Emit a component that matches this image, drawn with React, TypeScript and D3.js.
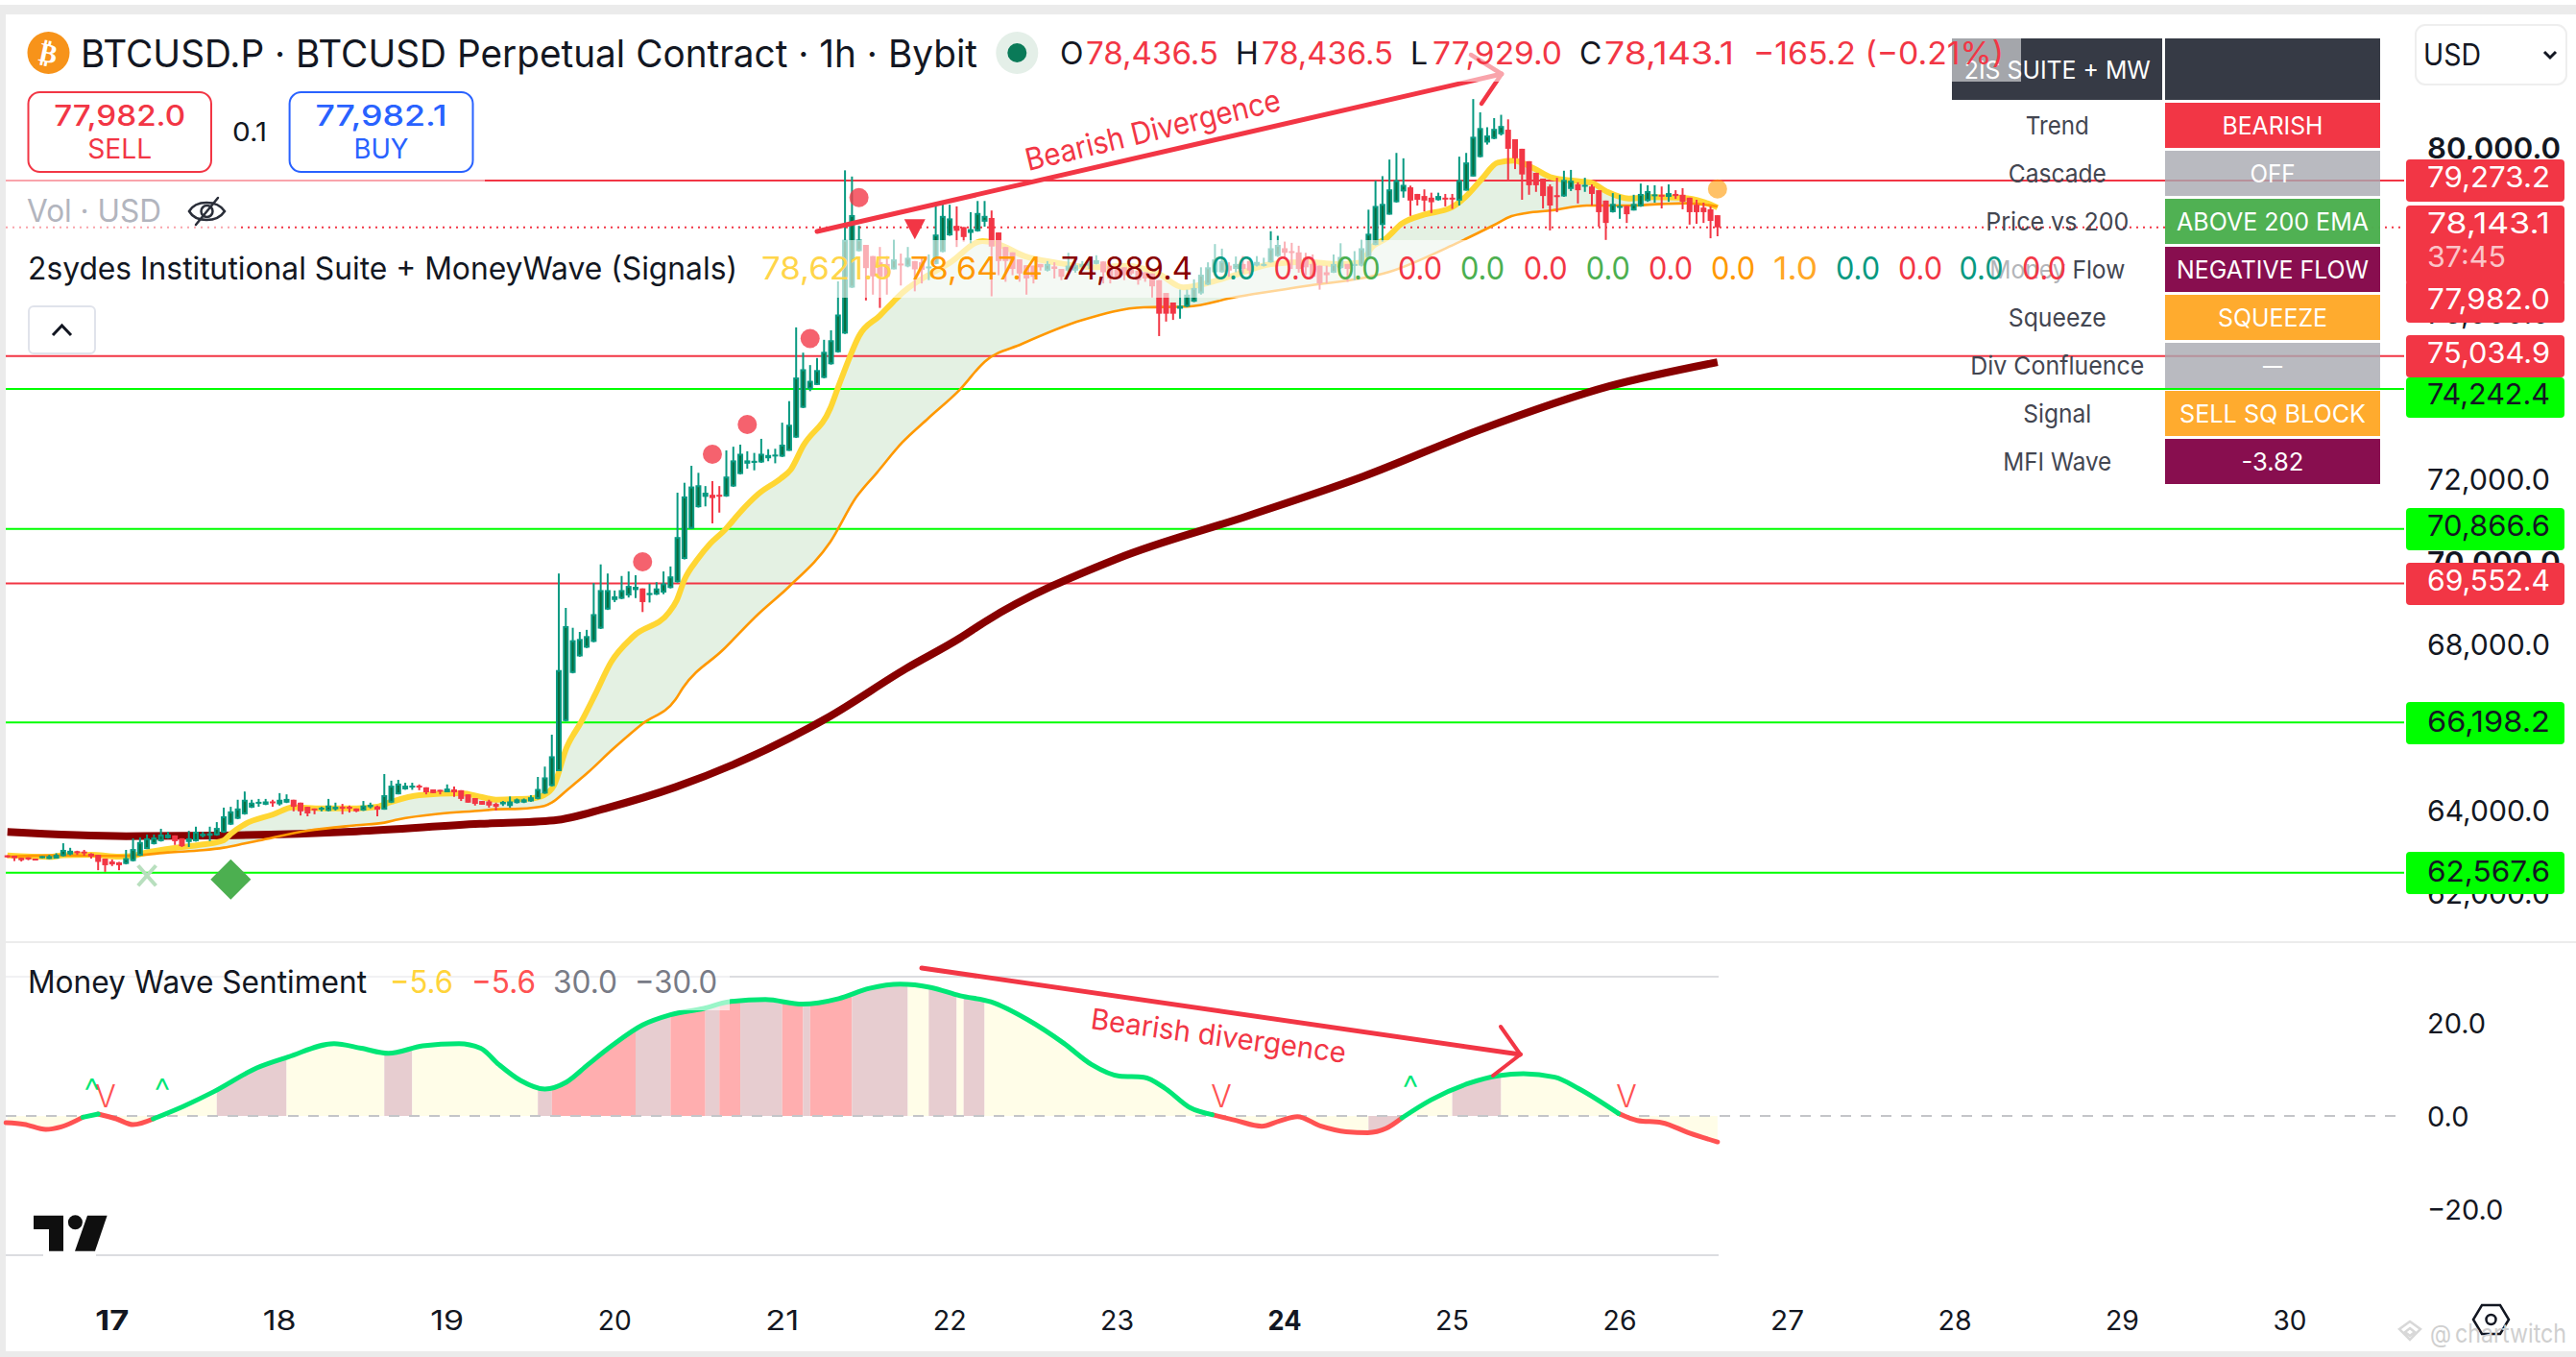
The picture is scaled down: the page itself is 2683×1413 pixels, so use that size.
import React from "react";
import * as d3 from "d3";

const candles: number[][] = [
[62990,62990,62930,62940],[62980,62980,62850,62920],[62930,62930,62840,62870],[62940,62940,62870,62890],[62910,62910,62870,62870],[62920,62970,62920,62970],[62900,63000,62900,62970],[62910,63040,62910,63000],[62970,63280,62960,63120],[63010,63170,62990,63100],
[63090,63100,63000,63040],[63080,63120,62980,63040],[63030,63040,62910,62960],[63000,63000,62630,62830],[62910,62910,62590,62750],[62840,62890,62730,62770],[62820,62830,62630,62750],[62780,63120,62770,62920],[62850,63400,62840,63140],[62980,63420,62970,63310],
[63140,63490,63140,63400],[63260,63490,63250,63420],[63330,63630,63320,63490],[63400,63560,63390,63490],[63470,63470,63240,63330],[63400,63400,63190,63210],[63310,63580,63190,63400],[63330,63680,63320,63560],[63450,63560,63420,63510],[63460,63680,63330,63520],
[63470,63790,63460,63650],[63540,64140,63530,63930],[63730,64160,63720,64050],[63870,64330,63860,64120],[63980,64530,63970,64330],[64140,64330,64130,64260],[64240,64350,64160,64280],[64210,64350,64200,64290],[64290,64330,64160,64250],[64220,64490,64190,64330],
[64260,64460,64250,64350],[64330,64330,64050,64160],[64260,64260,63950,64050],[64160,64160,63930,64000],[64120,64120,63980,64080],[64090,64160,64050,64140],[64060,64350,64050,64190],[64100,64260,64070,64160],[64160,64230,63980,64120],[64160,64190,64020,64120],
[64120,64120,64030,64050],[64070,64300,64060,64190],[64150,64260,64120,64210],[64170,64190,63930,64090],[64090,64950,64090,64440],[64260,64790,64250,64670],[64460,64810,64460,64720],[64580,64740,64570,64670],[64630,64740,64570,64670],[64670,64700,64560,64630],
[64630,64630,64460,64510],[64580,64580,64490,64490],[64570,64570,64460,64530],[64510,64700,64510,64600],[64580,64650,64400,64510],[64560,64560,64300,64350],[64460,64460,64260,64260],[64370,64370,64190,64230],[64300,64300,64210,64210],[64290,64330,64140,64190],
[64230,64260,64070,64160],[64220,64300,64180,64280],[64180,64410,64140,64290],[64250,64360,64240,64340],[64260,64360,64250,64340],[64290,64440,64280,64390],[64350,64880,64340,64590],[64480,65130,64470,64870],[64660,65900,64650,65380],[65020,69790,65020,67460],
[66230,68960,66220,68520],[67390,68480,67380,68180],[67790,68380,67780,68210],[68000,68430,67990,68280],[68140,69560,68130,68810],[68460,70010,68450,69390],[68920,69790,68910,69390],[69150,69380,69100,69240],[69180,69730,69170,69390],[69260,69840,69210,69490],
[69390,69750,69200,69470],[69430,69430,68860,69100],[69270,69540,69090,69320],[69280,69580,69270,69430],[69330,69840,69290,69550],[69440,69960,69430,69720],[69580,71740,69570,70670],[70140,71980,70130,71650],[70870,72390,70860,71890],[71390,72220,71380,71920],
[71640,71900,71410,71740],[71690,72020,71000,71610],[71690,71900,71260,71650],[71650,72760,71640,72130],[71890,72850,71880,72520],[72190,72900,72180,72680],[72440,72740,72320,72520],[72460,72700,72280,72510],[72470,73040,72460,72680],[72570,72790,72500,72650],
[72620,72800,72450,72660],[72610,73430,72600,72900],[72750,73950,72750,73380],[73070,75730,73060,74520],[73790,75120,73780,74720],[74240,74820,74190,74440],[74340,74990,74340,74700],[74510,75430,74500,75140],[74840,75660,74830,75420],[75130,76840,75120,76040],
[75580,79520,75570,77840],[76690,79370,76680,78440],[77570,78180,77560,77850],[77720,77720,76380,77160],[77450,77450,76520,76960],[77300,77670,76200,76950],[77260,77450,76520,76950],[77130,77840,77130,77370],[77270,77510,76740,77260],[77200,77670,77180,77410],
[77330,77330,76600,77130],[77300,77440,76790,77120],[77160,77490,76870,77200],[77260,78650,77250,77970],[77550,78710,77540,78420],[77950,78690,77940,78360],[78180,78650,77670,78060],[78150,78150,77800,77910],[78010,78510,77760,78100],[78050,78780,78040,78490],
[78280,78780,78160,78420],[78370,78550,76480,77680],[78020,78020,76990,77330],[77670,77670,76830,77330],[77540,77540,76990,77140],[77370,77370,76830,77030],[77230,77230,76520,76910],[77220,77220,76790,76950],[77260,77260,77100,77180],[77100,77330,77080,77260],
[77200,77300,76910,77140],[77140,77140,76870,76950],[77100,77530,77060,77220],[77100,77330,77050,77230],[77180,77330,77100,77260],[77220,77410,77140,77300],[77260,77470,77250,77350],[77320,77320,76790,77060],[77220,77220,76790,76910],[77180,77180,76910,76950],
[77180,77180,76870,76990],[77180,77220,76990,77030],[77100,77100,76760,76870],[77060,77060,76830,76910],[77030,77030,76450,76720],[76870,76870,75520,76060],[76560,76560,75870,76060],[76330,76330,75910,76060],[76180,76640,75940,76250],[76230,76640,76220,76520],
[76350,76890,76340,76680],[76550,77180,76520,77000],[76760,77300,76750,77180],[77060,77740,77050,77370],[77060,77630,77050,77330],[77220,77300,76950,77100],[77140,77440,77060,77260],[77260,77450,77030,77140],[77330,77330,76990,77100],[77220,77450,77200,77310],
[77220,77410,77200,77260],[77300,78050,77290,77640],[77450,77940,77430,77720],[77640,77800,77410,77530],[77570,77770,77140,77540],[77540,77700,77050,77140],[77410,77530,76990,77180],[77260,77490,76950,76950],[77220,77220,76640,76790],[77060,77220,76790,76990],
[77050,77490,77040,77260],[77160,77760,77140,77430],[77260,77260,76830,77140],[77220,77570,76870,77260],[77220,77840,77200,77640],[77410,78570,77400,77990],[77720,79270,77710,78660],[78200,79380,77800,78710],[78450,79780,78450,79060],[78750,79940,78740,79280],
[79010,79810,78860,79170],[79110,79150,78420,78790],[78950,78950,78670,78810],[78900,79060,78530,78790],[78860,78980,78490,78750],[78800,78980,78790,78900],[78860,78950,78650,78820],[78860,78950,78590,78830],[78790,79850,78670,79280],[79030,79940,79030,79710],
[79370,81240,79370,80330],[79840,80920,79830,80540],[80190,80560,80140,80360],[80280,80780,80270,80520],[80390,80860,80360,80590],[80500,80750,79280,80040],[80270,80270,79550,79810],[80040,80040,78810,79420],[79740,79740,78930,79160],[79460,79460,79000,79160],
[79320,79320,78600,78900],[79130,79180,78070,78670],[78920,79340,78510,78900],[78890,79510,78880,79290],[79070,79530,79020,79270],[79180,79230,78720,79040],[79140,79340,79000,79170],[79130,79180,78670,78950],[79040,79040,78160,78510],[78790,78790,77840,78250],
[78510,78970,78500,78710],[78650,78930,78350,78660],[78660,78660,78250,78460],[78550,78930,78550,78710],[78650,79200,78640,78950],[78780,79160,78760,79020],[78900,79160,78740,78940],[78930,79130,78600,78900],[78880,79180,78760,78970],[78950,79040,78830,78900],
[78930,79090,78580,78760],[78860,78860,78210,78510],[78690,78810,78230,78510],[78620,78740,78250,78510],[78580,78650,77880,78300],[78436.5,78436.5,77929,78143.1],
];

const fastIdx = [0,6,8,12,16,18,19,23,28,31,32,34,38,41,45,50,53,55,59,65,68,70,73,75,76.9,78.3,80.1,82.2,84.2,86.5,89.7,94.8,95.9,97,98.9,100.7,102.8,104.9,107.6,110.8,112.2,114,117.9,119,120.5,122,125,126.9,128.2,135.1,139.7,142,145.7,150.2,155.7,160.3,164.9,168.5,171.8,176.4,181,186.5,190.1,193.8,195.6,197.5,199.8,203,206.7,208.9,211.2,213.5,215.8,218.6,221.3,224.5,226.8,229.1,232.3,235.5,240.1,242.9,245];
const fastVal = [62989,62950,62990,63004,62958,62973,63020,63143,63251,63352,63506,63738,63970,64148,64124,64124,64163,64279,64441,64487,64395,64333,64345,64360,64444,64676,65586,66207,66869,67655,68276,68856,69145,69642,70139,70511,70842,71256,71711,72084,72291,72870,73781,74277,74939,75519,76015,76346,76560,77295,77813,77736,77450,77295,77180,77218,77025,76693,76793,77025,77257,77311,77257,77295,77682,77875,78238,78454,78609,78879,79304,79706,79752,79574,79343,79265,79227,79010,78840,78871,78856,78763,78621.5];
const slowIdx = [0,8,16,19,23,28,31,34,36,43,50,54,56,62,68,70,73.4,76.9,78,80.1,83.3,86.7,91,95.7,96.8,102.5,107.6,112,117.9,121.6,124.5,128.2,131.9,136.5,140,145.3,154,162.8,169,176,185.6,197.9,207.6,212.8,215.5,217.7,221.3,226.3,232.3,237,240.6,245];
const slowVal = [62958,62989,62973,62997,63058,63112,63174,63275,63344,63584,63715,63777,63854,63993,64070,64101,64113,64179,64262,64552,65007,65545,66166,66745,67035,67945,68814,69476,70552,71628,72208,72953,73532,74236,74901,75326,75905,76214,76230,76461,76716,77064,77759,78184,78416,78493,78555,78671,78671,78709,78725,78647.4];
const emaIdx = [0,17,31,50,67.7,78.3,86,95.7,117.7,128.7,136.5,140.2,159,177.8,194.3,210.8,229.6,245];
const emaVal = [63553,63452,63468,63568,63749,63832,64138,64634,66331,67490,68235,68640,70149,71185,72135,73247,74314,74889.4];

const waveIdx = [-0.2,2.4,5.5,7.7,10.8,13,15.6,18,20.9,25.3,29.6,35.8,40.2,46.8,50.7,54.6,59.5,64.7,67.8,70.4,73.5,77,80.1,83.2,86.7,91,95,99.8,103.3,108.6,113.9,119.1,123.5,127.9,132.3,136.5,140.9,146.1,151.4,155.3,159.3,162.8,165.9,169.4,172.6,176,179.7,182.2,184.8,188.2,191.8,194.9,197.5,199.8,204,209.3,213.7,217.2,221.7,225.1,230.8,233.5,237,241,245];
const waveVal = [-1.45,-1.8,-2.9,-2.35,-0.28,0.41,-0.62,-1.86,-0.62,2.14,5.25,10.4,12.7,15.6,14.6,13.5,15.1,15.6,14.6,11.1,7.66,5.8,7.3,11.1,15.25,19.6,21.8,23.2,24.6,25.1,24.1,25.3,27.5,28.4,27.7,25.9,24.6,20.8,15.6,11.1,8.6,8.35,5.9,1.8,0.28,-0.97,-2.2,-1.1,-0.14,-2.2,-3.4,-3.6,-2.7,-0.41,3.5,7,8.7,9.1,8.35,5.9,0.55,-0.97,-1.45,-3.7,-5.6];
const waveRedFrom = [-0.2,13,172.6,230.8];
const waveRedTo = [10.8,20.9,199.8,245];
const waveGreenFrom = [10.8,20.9,199.8];
const waveGreenTo = [13,172.6,230.8];

const bandFrom = [0,30,40,54,58,76,78,90,95,100,102,105,111,114,115,121,129,132,136,137,140,195,200,207,214];
const bandTo = [30,40,54,58,76,78,90,95,100,102,105,111,114,115,121,129,132,136,137,140,195,200,207,214,245];
const bandKind = ["y","g","y","g","y","g","p","g","p","g","p","g","p","g","p","g","y","g","y","g","y","g","y","g","y"];

const levelPrices = [79273.2,75034.9,69552.4,74242.4,70866.6,66198.2,62567.6];
const levelColors = ["#f23645","#f23645","#f23645","#00ff00","#00ff00","#00ff00","#00ff00"];
const dayLabels = ["17","18","19","20","21","22","23","24","25","26","27","28","29","30"];
const priceTicks = d3.range(62000, 80001, 2000);
const waveTicks = [20, 0, -20];
const waveHLines = [30, -30];

const dotIdx = [91,101,106,115,122];
const dotPrice = [70073,72668,73387,75461,78863];

const tableLabels = ["Trend","Cascade","Price vs 200","Money Flow","Squeeze","Div Confluence","Signal","MFI Wave"];
const tableValues = ["BEARISH","OFF","ABOVE 200 EMA","NEGATIVE FLOW","SQUEEZE","—","SELL SQ BLOCK","-3.82"];
const tableColors = ["#f23645","#a8a9b0","#4caf50","#880e4f","#ffab2e","#a8a9b0","#ffab2e","#880e4f"];
const tableOpacity = [1,0.8,0.98,1,1,0.8,1,1];
const tableLabelW = [66,102,149,141,102,181,71,113];
const tableValueW = [105,47,200,200,114,20,194,65];

const legendZeroColors = ["#089981","#f23645","#4caf50","#f23645","#4caf50","#f23645","#4caf50","#f23645","#ff9800","#ffa726","#089981","#f23645","#089981","#f23645"];
const legendZeroText = ["0.0","0.0","0.0","0.0","0.0","0.0","0.0","0.0","0.0","1.0","0.0","0.0","0.0","0.0"];

const FONT = "Inter, Roboto, 'Noto Sans', sans-serif";
const RED = "#f23645";
const TEAL = "#089981";

const x = d3.scaleLinear().domain([0, 245]).range([7.7, 1788.85]);
const y = d3.scaleLinear().domain([62567.6, 79273.2]).range([908.8, 188]);
const yw = d3.scaleLinear().domain([-20, 20]).range([1258.6, 1065.4]);
const waveAt = d3.scaleLinear().domain(waveIdx).range(waveVal);

type TP = { x: number; y: number; size: number; fill?: string; len?: number; anchor?: string; weight?: number; children: React.ReactNode; opacity?: number };
function T({ x, y, size, fill = "#131722", len, anchor = "start", weight = 400, children, opacity }: TP) {
  return (
    <text x={x} y={y} fontSize={size} fill={fill} textAnchor={anchor} fontWeight={weight} fontFamily={FONT} opacity={opacity}
      {...(len ? { textLength: len, lengthAdjust: "spacingAndGlyphs" } : {})}>{children}</text>
  );
}

const lineOf = (ix: number[], vals: number[], sy: (v: number) => number) =>
  d3.line<number>().x((_, i) => x(ix[i])).y((v) => sy(v)).curve(d3.curveMonotoneX)(vals) as string;

function Candles() {
  return (
    <g>
      {candles.map(([o, h, l, c], i) => {
        const up = c >= o;
        const col = up ? TEAL : RED;
        const top = y(Math.max(o, c));
        const bot = y(Math.min(o, c));
        const cx = x(i);
        const tall = bot - top > 5;
        return (
          <g key={i}>
            <line x1={cx} x2={cx} y1={y(h)} y2={y(l)} stroke={col} strokeWidth={2} />
            {up && tall ? (
              <rect x={cx - 2} y={top + 1} width={4} height={bot - top - 2} fill="#0b6b3c" stroke={TEAL} strokeWidth={2} />
            ) : (
              <rect x={cx - 3} y={top} width={6} height={Math.max(bot - top, 2)} fill={col} />
            )}
          </g>
        );
      })}
    </g>
  );
}

function Tag({ y0, y1, fill, text, color, base, sub }: { y0: number; y1: number; fill: string; text: string; color: string; base: number; sub?: string }) {
  return (
    <g>
      <rect x={2506} y={y0} width={165} height={y1 - y0} rx={4} fill={fill} />
      <T x={2528} y={base} size={30} fill={color} len={128}>{text}</T>
      {sub ? <T x={2528} y={base + 35} size={30} fill="#fbc4c8" len={82}>{sub}</T> : null}
    </g>
  );
}

export default function App() {
  const fastPath = lineOf(fastIdx, fastVal, y);
  const slowPath = lineOf(slowIdx, slowVal, y);
  const emaPath = lineOf(emaIdx, emaVal, y);

  const fF = fastIdx.map((v, i) => i).filter((i) => fastIdx[i] >= 19);
  const sF = slowIdx.map((v, i) => i).filter((i) => slowIdx[i] >= 19).reverse();
  const up = lineOf(fF.map((i) => fastIdx[i]), fF.map((i) => fastVal[i]), y);
  const down = lineOf(sF.map((i) => slowIdx[i]), sF.map((i) => slowVal[i]), y);
  const fillPath = up + "L" + down.slice(1) + "Z";

  const bandColor: Record<string, string> = { y: "#fffde8", g: "#e7cdd0", p: "#ffaeaf" };
  const bandArea = d3.area<number>().x((d) => x(d)).y0(yw(0)).y1((d) => yw(waveAt(d)));
  const segPath = (a: number, b: number) => {
    const ids = waveIdx.map((v, i) => i).filter((i) => waveIdx[i] >= a && waveIdx[i] <= b);
    return lineOf(ids.map((i) => waveIdx[i]), ids.map((i) => waveVal[i]), yw);
  };

  const topLine = { x1: 851, y1: 241, x2: 1564, y2: 77 };
  const botLine = { x1: 960, y1: 1008, x2: 1583.5, y2: 1098 };

  return (
    <svg width={2683} height={1413} viewBox="0 0 2683 1413" style={{ position: "absolute", left: 0, top: 0, background: "#ffffff" }}>
      <rect x={0} y={5} width={2683} height={10} fill="#ebebeb" />
      <rect x={0} y={5} width={6} height={1408} fill="#ebebeb" />
      <rect x={0} y={1407} width={2683} height={6} fill="#ebebeb" />
      <rect x={6} y={980} width={2677} height={2} fill="#ececec" />

      {/* wave pane */}
      {waveHLines.map((v) => (
        <line key={v} x1={6} x2={1790} y1={yw(v)} y2={yw(v)} stroke="#dcdde0" strokeWidth={2} />
      ))}
      {bandFrom.map((a, k) => {
        const pts = [...d3.range(a, bandTo[k], 0.5), bandTo[k]];
        return <path key={k} d={bandArea(pts) as string} fill={bandColor[bandKind[k]]} />;
      })}
      <line x1={6} x2={2504} y1={yw(0)} y2={yw(0)} stroke="#c4c5c9" strokeWidth={2} strokeDasharray="11 10" />
      {waveRedFrom.map((a, k) => (
        <path key={k} d={segPath(a, waveRedTo[k])} fill="none" stroke="#ff5252" strokeWidth={5} strokeLinecap="round" />
      ))}
      {waveGreenFrom.map((a, k) => (
        <path key={k} d={segPath(a, waveGreenTo[k])} fill="none" stroke="#00e676" strokeWidth={5} strokeLinecap="round" />
      ))}
      <T x={95.7} y={1150} size={38} fill="#00e676" anchor="middle" weight={300}>^</T>
      <T x={169} y={1150} size={38} fill="#00e676" anchor="middle" weight={300}>^</T>
      <T x={1469} y={1147} size={38} fill="#00e676" anchor="middle" weight={300}>^</T>
      <T x={110} y={1153} size={32} fill="#ff5252" anchor="middle" weight={300}>V</T>
      <T x={1272} y={1153} size={32} fill="#ff5252" anchor="middle" weight={300}>V</T>
      <T x={1694} y={1153} size={32} fill="#ff5252" anchor="middle" weight={300}>V</T>

      <line x1={botLine.x1} y1={botLine.y1} x2={botLine.x2} y2={botLine.y2} stroke={RED} strokeWidth={5} strokeLinecap="round" />
      <path d="M1563 1069 L1583.5 1098 L1555 1120" fill="none" stroke={RED} strokeWidth={4} strokeLinecap="round" strokeLinejoin="round" />
      <g transform="translate(1135,1071) rotate(7.7)">
        <T x={0} y={0} size={30} fill={RED} len={268}>Bearish divergence</T>
      </g>

      {/* legend overlay, wave pane */}
      <rect x={6} y={1000} width={754} height={52} fill="#ffffff" opacity={0.6} />
      <T x={29} y={1034} size={32} len={353}>Money Wave Sentiment</T>
      <T x={406} y={1034} size={32} fill="#ffd43b" len={66}>−5.6</T>
      <T x={491} y={1034} size={32} fill="#ff5252" len={67}>−5.6</T>
      <T x={576} y={1034} size={32} fill="#787b86" len={67}>30.0</T>
      <T x={661} y={1034} size={32} fill="#787b86" len={86}>−30.0</T>

      {/* main pane */}
      <path d={fillPath} fill="#e4f1e3" />
      {levelPrices.map((p, k) => (
        <line key={p} x1={6} x2={2504} y1={y(p)} y2={y(p)} stroke={levelColors[k]} strokeWidth={2} />
      ))}
      <line x1={6} x2={2504} y1={y(78143.1)} y2={y(78143.1)} stroke={RED} strokeWidth={2} strokeDasharray="2 5" />
      <path d={emaPath} fill="none" stroke="#880000" strokeWidth={8} />
      <path d={fastPath} fill="none" stroke="#ffd633" strokeWidth={6} />
      <path d={slowPath} fill="none" stroke="#ff9800" strokeWidth={2.6} />
      <Candles />

      {dotIdx.map((i, k) => (
        <circle key={i} cx={x(i)} cy={y(dotPrice[k])} r={10} fill={RED} opacity={0.78} />
      ))}
      <path d={`M${x(130) - 11} ${y(78340)} h22 l-11 21 Z`} fill={RED} />
      <circle cx={x(245)} cy={y(79071)} r={10} fill="#ff9800" opacity={0.6} />
      <g stroke="#b8dfbe" strokeWidth={4} strokeLinecap="square">
        <line x1={x(20) - 8} x2={x(20) + 8} y1={y(62500) - 9} y2={y(62500) + 9} />
        <line x1={x(20) - 8} x2={x(20) + 8} y1={y(62500) + 9} y2={y(62500) - 9} />
      </g>
      <path d={`M${x(32)} ${y(62409) - 21} l21 21 l-21 21 l-21 -21 Z`} fill="#4caf50" />

      {/* top drawing */}
      <line x1={topLine.x1} y1={topLine.y1} x2={topLine.x2} y2={topLine.y2} stroke={RED} strokeWidth={5} strokeLinecap="round" />
      <path d="M1532 57 L1564 77 L1543 108" fill="none" stroke={RED} strokeWidth={4.5} strokeLinecap="round" strokeLinejoin="round" />
      <g transform="translate(1071,178) rotate(-13.5)">
        <T x={0} y={0} size={32} fill={RED} len={272}>Bearish Divergence</T>
      </g>

      {/* table */}
      <rect x={2033} y={40} width={219} height={64} fill="#363a45" />
      <rect x={2255} y={40} width={224} height={64} fill="#363a45" />
      <T x={2142.8} y={82} size={26} fill="#ffffff" anchor="middle" len={194}>2IS SUITE + MW</T>
      {tableLabels.map((t, k) => {
        const y0 = 107 + k * 50;
        return (
          <g key={t}>
            <rect x={2255} y={y0} width={224} height={47} fill={tableColors[k]} opacity={tableOpacity[k]} />
            <T x={2142.8} y={y0 + 33} size={26} fill="#434651" anchor="middle" len={tableLabelW[k]}>{t}</T>
            <T x={2367} y={y0 + 33} size={26} fill="#ffffff" anchor="middle" len={tableValueW[k]}>{tableValues[k]}</T>
          </g>
        );
      })}

      {/* legend overlays */}
      <rect x={6} y={38} width={2099} height={47} fill="#ffffff" opacity={0.55} />
      <rect x={6} y={85} width={499} height={120} fill="#ffffff" opacity={0.55} />
      <rect x={6} y={205} width={240} height={45} fill="#ffffff" opacity={0.55} />
      <rect x={6} y={250} width={2154} height={60} fill="#ffffff" opacity={0.6} />

      {/* title row */}
      <circle cx={50.5} cy={55} r={22} fill="#f7931a" />
      <text x={50.5} y={65} fontSize={28} fontWeight={700} fill="#ffffff" textAnchor="middle" fontFamily="'DejaVu Sans'" transform="rotate(12 50.5 55)">₿</text>
      <T x={84} y={70} size={39} len={934}>BTCUSD.P · BTCUSD Perpetual Contract · 1h · Bybit</T>
      <circle cx={1059.3} cy={55} r={22} fill="#e4efe8" />
      <circle cx={1059.3} cy={55} r={10} fill="#0a7a58" />
      <T x={1104} y={67} size={32}>O</T>
      <T x={1131} y={67} size={32} fill={RED} len={138}>78,436.5</T>
      <T x={1287} y={67} size={32}>H</T>
      <T x={1314} y={67} size={32} fill={RED} len={137}>78,436.5</T>
      <T x={1469} y={67} size={32}>L</T>
      <T x={1492} y={67} size={32} fill={RED} len={135}>77,929.0</T>
      <T x={1645} y={67} size={32}>C</T>
      <T x={1671} y={67} size={32} fill={RED} len={135}>78,143.1</T>
      <T x={1826} y={67} size={32} fill={RED} len={261}>−165.2 (−0.21%)</T>

      {/* sell / buy */}
      <rect x={29.5} y={96} width={190.5} height={83} rx={12} fill="#ffffff" stroke={RED} strokeWidth={2} />
      <T x={124.7} y={131} size={30} fill={RED} anchor="middle" len={137} weight={500}>77,982.0</T>
      <T x={124.7} y={165} size={28} fill={RED} anchor="middle" len={67}>SELL</T>
      <T x={242} y={147} size={27} len={36}>0.1</T>
      <rect x={301.6} y={96} width={190.9} height={83} rx={12} fill="#ffffff" stroke="#2962ff" strokeWidth={2} />
      <T x={397} y={131} size={30} fill="#2962ff" anchor="middle" len={137} weight={500}>77,982.1</T>
      <T x={397} y={165} size={28} fill="#2962ff" anchor="middle" len={57}>BUY</T>

      {/* volume row */}
      <T x={28} y={231} size={32} fill="#b2b5be" len={140}>Vol · USD</T>
      <g fill="none" stroke="#2a2e39" strokeWidth={2.5} strokeLinecap="round">
        <path d="M197 220 C204 208 226 208 234 220 C226 232 204 232 197 220 Z" />
        <circle cx={215.5} cy={220} r={6} />
        <line x1={204} y1={234} x2={227} y2={206} />
      </g>

      {/* indicator legend */}
      <T x={29} y={291} size={32} len={739}>2sydes Institutional Suite + MoneyWave (Signals)</T>
      <T x={793} y={291} size={32} fill="#ffd54a" len={137}>78,621.5</T>
      <T x={948} y={291} size={32} fill="#ff9800" len={138}>78,647.4</T>
      <T x={1105} y={291} size={32} fill="#880000" len={137}>74,889.4</T>
      {legendZeroText.map((t, k) => {
        const px = [1261.5,1326.5,1391.5,1456,1521,1586.7,1651.8,1717,1782,1847,1912,1977,2040.5,2106][k];
        return <T key={k} x={px} y={291} size={32} fill={legendZeroColors[k]} len={46}>{t}</T>;
      })}
      <rect x={30} y={319} width={69} height={49} rx={5} fill="#ffffff" stroke="#e0e3eb" strokeWidth={2} />
      <path d="M55 349 L64.5 339 L74 349" fill="none" stroke="#131722" strokeWidth={3} />

      {/* USD select */}
      <rect x={2516} y={26} width={157} height={62} rx={10} fill="#ffffff" stroke="#eeeeee" strokeWidth={2} />
      <T x={2524} y={68} size={31} len={60}>USD</T>
      <path d="M2650 54 L2656 60 L2662 54" fill="none" stroke="#131722" strokeWidth={3} />

      {/* price axis */}
      {priceTicks.map((p) => (
        <T key={p} x={2528} y={y(p) + 8} size={30} weight={p % 10000 === 0 ? 600 : 400} len={p % 10000 === 0 ? 139 : 128}>
          {d3.format(",.1f")(p)}
        </T>
      ))}
      <Tag y0={166} y1={210} fill={RED} color="#ffffff" text="79,273.2" base={195} />
      <Tag y0={292} y1={336} fill={RED} color="#ffffff" text="77,982.0" base={322} />
      <Tag y0={214} y1={296} fill={RED} color="#ffffff" text="78,143.1" base={243} sub="37:45" />
      <Tag y0={349} y1={393} fill={RED} color="#ffffff" text="75,034.9" base={378} />
      <Tag y0={393} y1={435} fill="#00ff00" color="#131722" text="74,242.4" base={421} />
      <Tag y0={529} y1={573} fill="#00ff00" color="#131722" text="70,866.6" base={558} />
      <Tag y0={586} y1={630} fill={RED} color="#ffffff" text="69,552.4" base={615} />
      <Tag y0={731} y1={775} fill="#00ff00" color="#131722" text="66,198.2" base={762} />
      <Tag y0={887} y1={931} fill="#00ff00" color="#131722" text="62,567.6" base={918} />
      {waveTicks.map((v) => (
        <T key={v} x={2528} y={yw(v) + 11} size={29}>{v < 0 ? "−" + Math.abs(v).toFixed(1) : v.toFixed(1)}</T>
      ))}

      {/* time axis */}
      {dayLabels.map((d, k) => (
        <T key={d} x={x(15 + 24 * k)} y={1385} size={28} anchor="middle" weight={d === "17" || d === "24" ? 700 : 400} len={35}>{d}</T>
      ))}

      {/* logo */}
      <rect x={45} y={1303} width={55} height={7} fill="#ffffff" />
      <path d="M35 1265.7 H66 V1302.7 H51 V1280 H35 Z" fill="#0f0f0f" />
      <circle cx={78.4} cy={1272.7} r={7.5} fill="#0f0f0f" />
      <path d="M91 1265.7 H111.6 L99 1302.7 H78 Z" fill="#0f0f0f" />

      {/* gear + watermark */}
      <path d="M2585 1359 H2604 L2613 1374 L2604 1389 H2585 L2576 1374 Z" fill="none" stroke="#131722" strokeWidth={2.5} />
      <circle cx={2594.5} cy={1374} r={5} fill="none" stroke="#131722" strokeWidth={2.5} />
      <path d="M2510 1376 l11 8 l-11 11 l-11 -11 Z M2510 1383 l5 4 l-5 4 l-5 -4 Z" fill="none" stroke="#d8d8d8" strokeWidth={2.5} />
      <T x={2531} y={1398} size={26} fill="#cfcfcf" len={22}>@</T>
      <T x={2557} y={1398} size={27} fill="#cfcfcf" len={116}>chartwitch</T>
    </svg>
  );
}
